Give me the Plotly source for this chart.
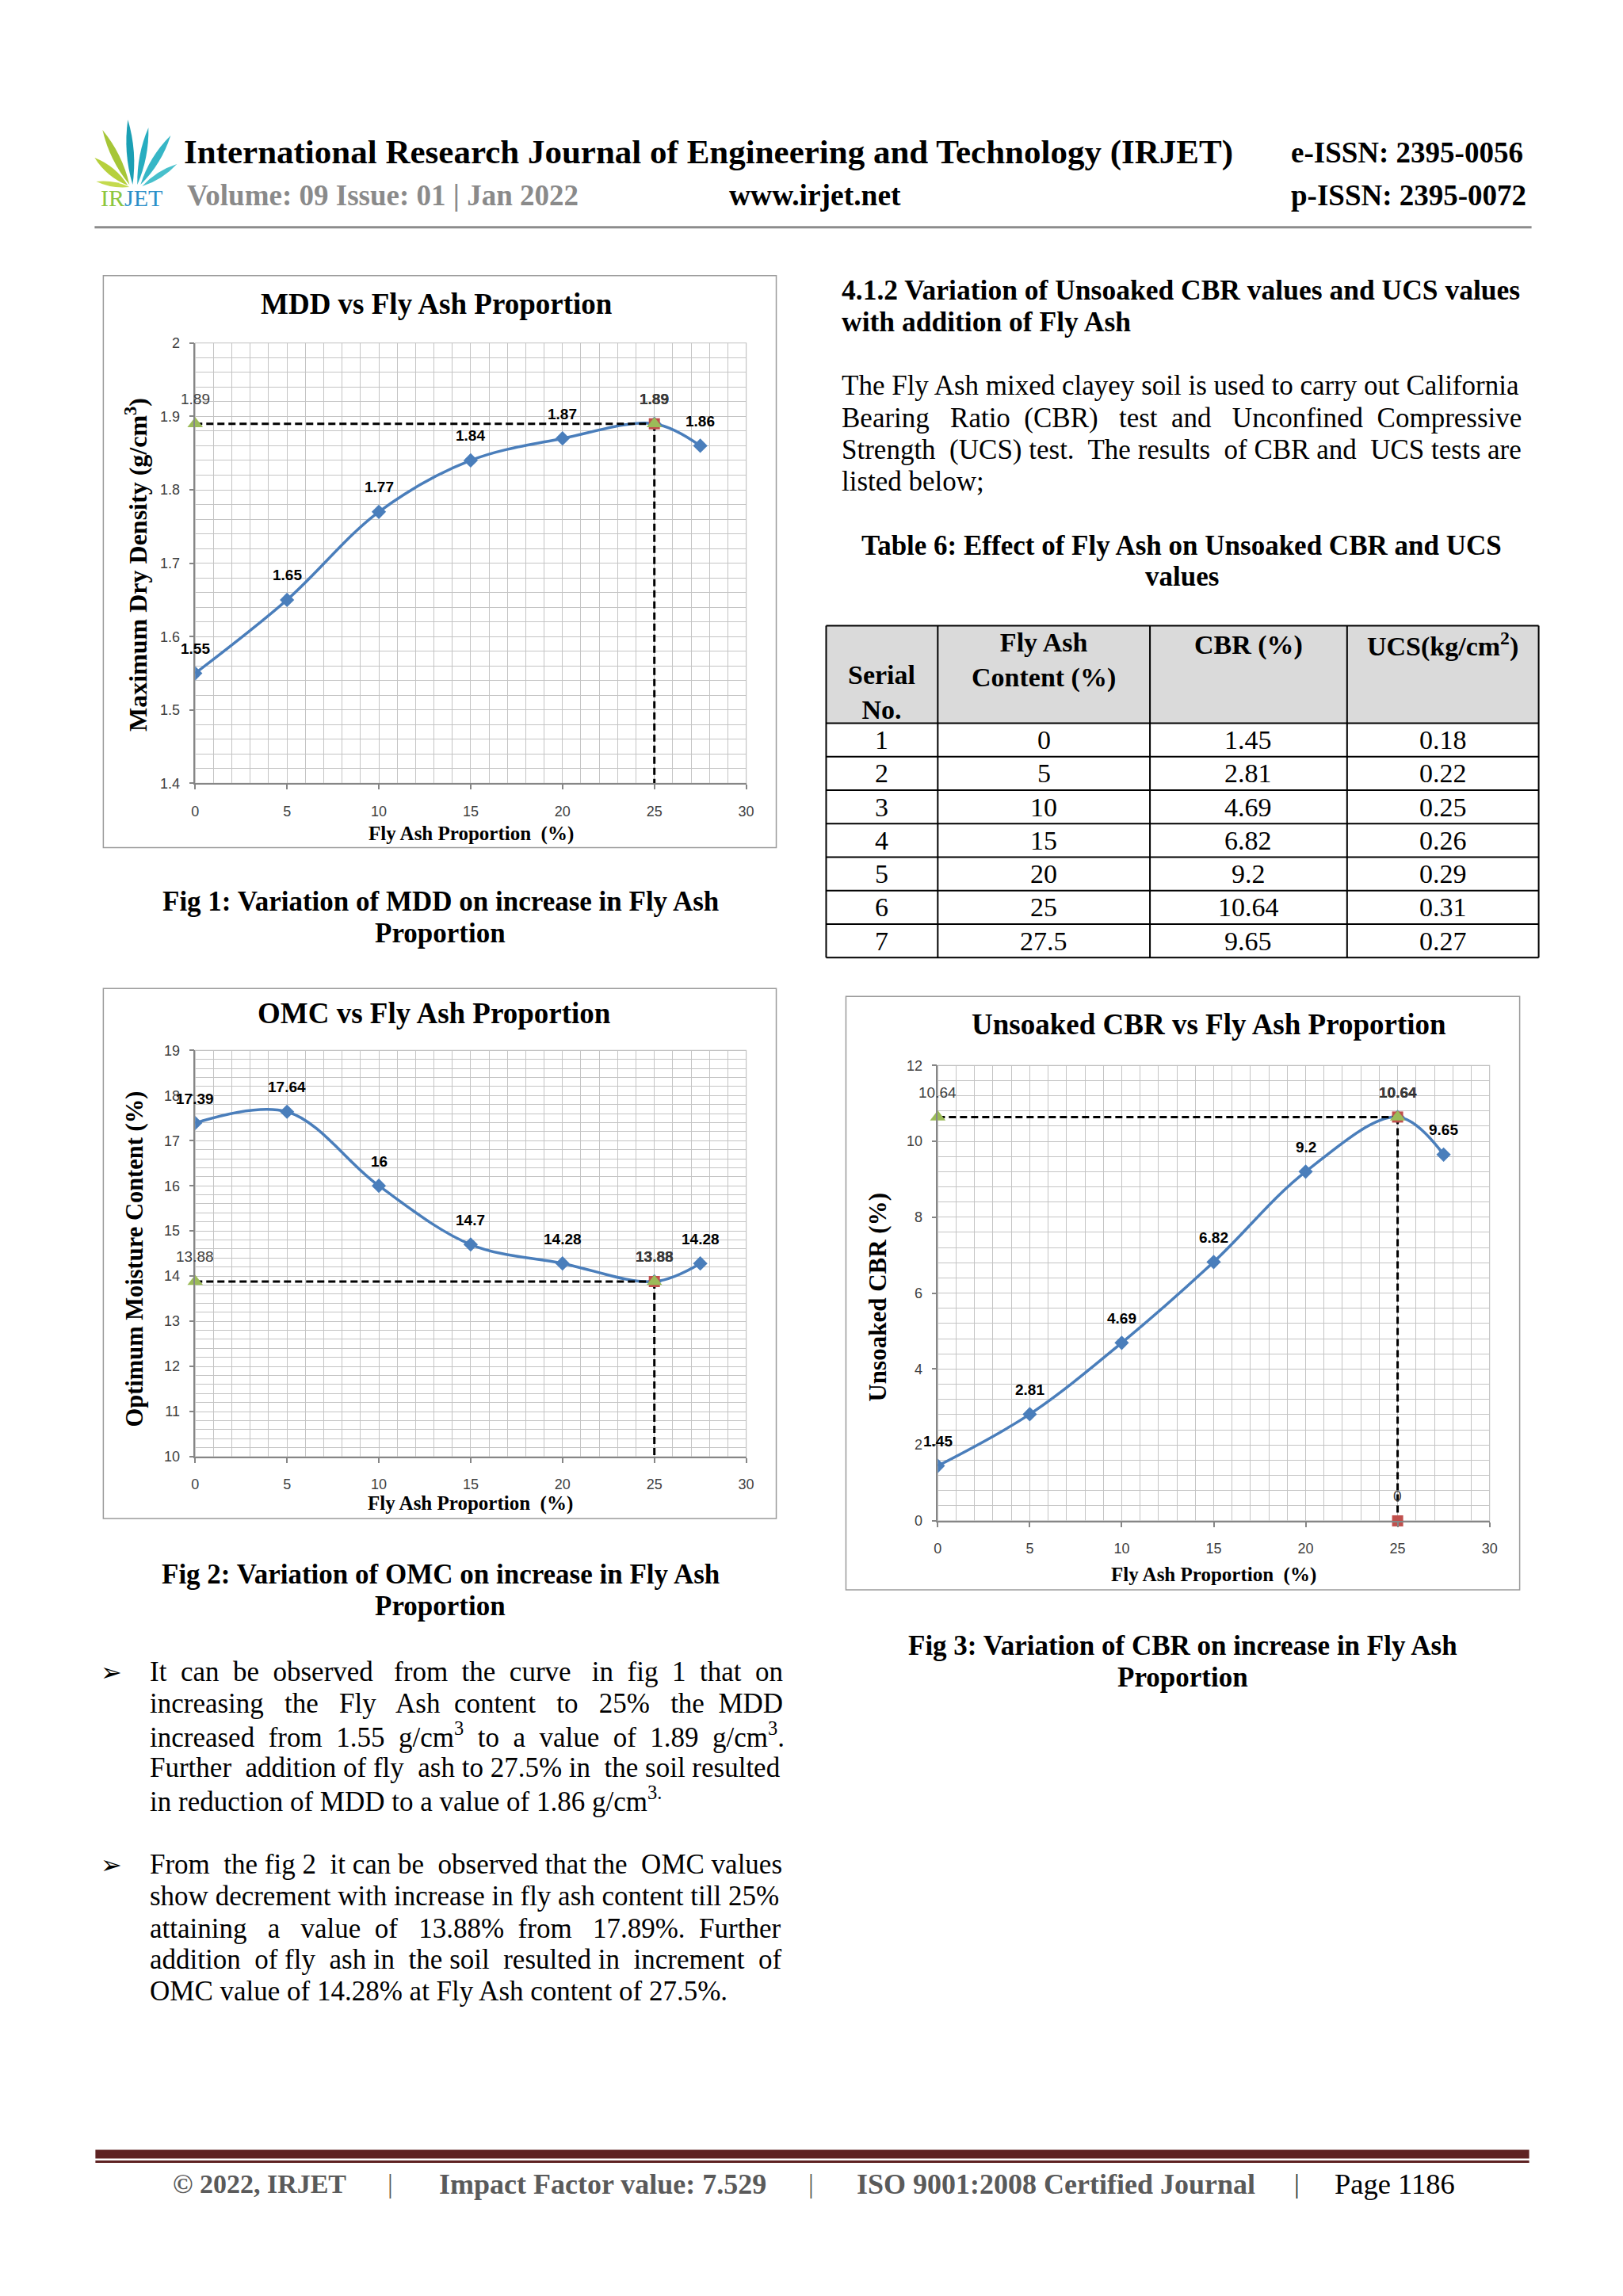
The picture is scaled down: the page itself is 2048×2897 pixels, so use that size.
import plotly.graph_objects as go

# ---------------- data ----------------
fly_ash = [0, 5, 10, 15, 20, 25, 27.5]
mdd = [1.55, 1.65, 1.77, 1.84, 1.87, 1.89, 1.86]
omc = [17.39, 17.64, 16, 14.7, 14.28, 13.88, 14.28]
cbr = [1.45, 2.81, 4.69, 6.82, 9.2, 10.64, 9.65]
ucs = [0.18, 0.22, 0.25, 0.26, 0.29, 0.31, 0.27]
serial_no = [1, 2, 3, 4, 5, 6, 7]
opt_fly_ash = 25
mdd_opt = 1.89
omc_opt = 13.88
cbr_opt = 10.64
x_ticks = [0, 5, 10, 15, 20, 25, 30]

# ---------------- page geometry helpers ----------------
# page coordinates (in the 2048x2897 photo) -> figure paper fractions,
# compensating the page margin/scale seen in the photographed page.
W, H = 2032, 2881
SC, BX, BY = 0.9936, 11.5, 17.0


def px(x):
    return ((x - BX) / SC) / W


def py(y):
    return 1 - ((y - BY) / SC) / H


SANS = "Liberation Sans, Arial, sans-serif"
SERIF = "Liberation Serif, Times New Roman, serif"
BLUE = "#4a7ebb"
GREEN = "#9bbb59"
RED = "#c0504d"
GRID = "#c4c4c4"
AXC = "#868686"
BODY = 35

fig = go.Figure()
anns = []
shapes = []


def text(x, y, s, size, bold=False, color="black", xanchor="left", family=SERIF, angle=0):
    if bold:
        s = "<b>" + s + "</b>"
    anns.append(dict(xref="paper", yref="paper", x=px(x), y=py(y), text=s,
                     showarrow=False, xanchor=xanchor, yanchor="middle",
                     textangle=angle, font=dict(family=family, size=size, color=color)))


# ---------------- charts ----------------
charts = [
    dict(ax="", vals=mdd, opt=mdd_opt, xd=(245, 941), yd=(432, 988), yr=(1.4, 2.0),
         dt=0.1, mdt=0.02, box=(129, 347, 979, 1069),
         title="MDD vs Fly Ash Proportion", tpos=(550, 383),
         ytitle="Maximum Dry Density (g/cm<sup>3</sup>)", ytpos=(170, 712), ytsize=32,
         xtpos=(594, 1052), clip=True),
    dict(ax="2", vals=omc, opt=omc_opt, xd=(245, 941), yd=(1325, 1838), yr=(10, 19),
         dt=1, mdt=0.2, box=(129, 1247, 979, 1916),
         title="OMC vs Fly Ash Proportion", tpos=(547, 1278),
         ytitle="Optimum Moisture Content (%)", ytpos=(169, 1588), ytsize=30.5,
         xtpos=(593, 1897), clip=True),
    dict(ax="3", vals=cbr, opt=cbr_opt, xd=(1183, 1880), yd=(1344, 1919), yr=(0, 12),
         dt=2, mdt=0.4, box=(1067, 1257, 1918, 2006),
         title="Unsoaked CBR vs Fly Ash Proportion", tpos=(1525, 1292),
         ytitle="Unsoaked CBR (%)", ytpos=(1107, 1636), ytsize=31,
         xtpos=(1532, 1987), clip=False),
]

layout_axes = {}
for c in charts:
    xa, ya = "x" + c["ax"], "y" + c["ax"]
    # main curve
    fig.add_trace(go.Scatter(x=fly_ash, y=c["vals"], xaxis=xa, yaxis=ya,
                             mode="lines+markers",
                             line=dict(color=BLUE, width=3.5, shape="spline", smoothing=1),
                             marker=dict(symbol="diamond", size=14, color=BLUE)))
    # vertical reference (down to the x axis)
    vx = [opt_fly_ash, opt_fly_ash]
    vy = [c["opt"], 0]
    fig.add_trace(go.Scatter(x=vx, y=vy, xaxis=xa, yaxis=ya, mode="lines+markers",
                             cliponaxis=c["clip"],
                             line=dict(color="black", width=3, dash="9px,5px"),
                             marker=dict(symbol="square", size=14, color=RED)))
    # horizontal reference (to the y axis)
    hx = [0, opt_fly_ash]
    hy = [c["opt"], c["opt"]]
    fig.add_trace(go.Scatter(x=hx, y=hy, xaxis=xa, yaxis=ya, mode="lines+markers",
                             cliponaxis=False,
                             line=dict(color="black", width=3, dash="9px,5px"),
                             marker=dict(symbol="triangle-up", size=17, color=GREEN)))
    # data labels
    for xv, yv in zip(fly_ash, c["vals"]):
        anns.append(dict(xref=xa, yref=ya, x=xv, y=yv, text="<b>%g</b>" % yv,
                         showarrow=False, yshift=31,
                         font=dict(family=SANS, size=19, color="black")))
    for xv, yv in list(zip(hx, hy)) + list(zip(vx, vy)):
        if c["yr"][0] <= yv <= c["yr"][1]:
            anns.append(dict(xref=xa, yref=ya, x=xv, y=yv, text="%g" % yv,
                             showarrow=False, yshift=31,
                             font=dict(family=SANS, size=19, color="#404040")))
    axstyle = dict(showline=True, linecolor=AXC, linewidth=1.5, mirror=False,
                   ticks="outside", ticklen=6, tickcolor=AXC, tickwidth=1.5,
                   showgrid=True, gridcolor=GRID, gridwidth=1, zeroline=False,
                   tickfont=dict(family=SANS, size=18, color="#404040"))
    layout_axes["xaxis" + c["ax"]] = dict(
        domain=[px(c["xd"][0]), px(c["xd"][1])], anchor=ya, range=[0, 30],
        tickmode="array", tickvals=x_ticks, ticklabelstandoff=12,
        minor=dict(dtick=1, tick0=0, showgrid=True, gridcolor=GRID, gridwidth=1, ticks=""),
        **axstyle)
    layout_axes["yaxis" + c["ax"]] = dict(
        domain=[py(c["yd"][1]), py(c["yd"][0])], anchor=xa, range=list(c["yr"]),
        dtick=c["dt"], tick0=c["yr"][0], ticklabelstandoff=8,
        minor=dict(dtick=c["mdt"], tick0=c["yr"][0], showgrid=True, gridcolor=GRID,
                   gridwidth=1, ticks=""),
        **axstyle)
    # light outline of the plot area (top / right edges are grid lines in the original)
    shapes.append(dict(type="rect", xref="paper", yref="paper",
                       x0=px(c["xd"][0]), x1=px(c["xd"][1]),
                       y0=py(c["yd"][1]), y1=py(c["yd"][0]),
                       line=dict(color=GRID, width=1.2), layer="below"))
    b = c["box"]
    shapes.append(dict(type="rect", xref="paper", yref="paper", x0=px(b[0]), y0=py(b[1]),
                       x1=px(b[2]), y1=py(b[3]), line=dict(color="#9a9a9a", width=1.5),
                       layer="below"))
    text(c["tpos"][0], c["tpos"][1], c["title"], 37, bold=True, xanchor="center")
    text(c["xtpos"][0], c["xtpos"][1], "Fly Ash Proportion  (%)", 25, bold=True, xanchor="center")
    text(c["ytpos"][0], c["ytpos"][1], c["ytitle"], c["ytsize"], bold=True, xanchor="center", angle=-90)


# ---------------- header ----------------
def leaf(base, tip, w, color):
    bx, by = base
    tx, ty = tip
    mx, my = (bx + tx) / 2, (by + ty) / 2
    dx, dy = tx - bx, ty - by
    L = (dx * dx + dy * dy) ** 0.5
    nx, ny = -dy / L, dx / L
    c1 = (mx + nx * w, my + ny * w)
    c2 = (mx - nx * w, my - ny * w)
    path = "M %f,%f Q %f,%f %f,%f Q %f,%f %f,%f Z" % (
        px(bx), py(by), px(c1[0]), py(c1[1]), px(tx), py(ty),
        px(c2[0]), py(c2[1]), px(bx), py(by))
    shapes.append(dict(type="path", xref="paper", yref="paper", path=path,
                       fillcolor=color, line=dict(width=0)))


leaf((166, 232), (160, 150), 9, "#1a9fb4")
leaf((172, 232), (186, 160), 8, "#27adc0")
leaf((176, 232), (214, 170), 9, "#36b6c6")
leaf((178, 234), (222, 206), 7, "#48c0cc")
leaf((162, 232), (128, 163), 9, "#a6c637")
leaf((160, 233), (118, 198), 9, "#b6d03c")
leaf((162, 235), (120, 228), 6, "#c4da4e")

text(124, 249, "<span style='color:#8dc63f'>IR</span><span style='color:#2b8fc9'>JET</span>",
     30, family=SERIF)
text(229, 191, "International Research Journal of Engineering and Technology (IRJET)", 43, bold=True)
text(1627, 192, "e-ISSN: 2395-0056", 37, bold=True)
text(233, 246, "Volume: 09 Issue: 01 | Jan 2022", 37, bold=True, color="#8a8a8a")
text(917, 246, "www.irjet.net", 37.5, bold=True)
text(1627, 246, "p-ISSN: 2395-0072", 37, bold=True)
shapes.append(dict(type="line", xref="paper", yref="paper", x0=px(118), x1=px(1933),
                   y0=py(286), y1=py(286), line=dict(color="#8c8c8c", width=3)))

# ---------------- right column text ----------------
text(1060, 365, "4.1.2 Variation of Unsoaked CBR values and UCS values", 35.5, bold=True)
text(1060, 405, "with addition of Fly Ash", 35.5, bold=True)
para = ["The Fly Ash mixed clayey soil is used to carry out California",
        "Bearing   Ratio  (CBR)   test  and   Unconfined  Compressive",
        "Strength  (UCS) test.  The results  of CBR and  UCS tests are",
        "listed below;"]
for yv, ln in zip([486, 527, 567, 607], para):
    text(1060, yv, ln, BODY)
text(1491, 688, "Table 6: Effect of Fly Ash on Unsoaked CBR and UCS", 35, bold=True, xanchor="center")
text(1491, 727, "values", 35, bold=True, xanchor="center")

# ---------------- table ----------------
col_edges = [1042, 1183, 1451, 1700, 1942]
t_top, h_bot, t_bot = 789, 912, 1208
shapes.append(dict(type="rect", xref="paper", yref="paper", x0=px(col_edges[0]), x1=px(col_edges[-1]),
                   y0=py(t_top), y1=py(h_bot), fillcolor="#dadada", line=dict(width=0), layer="below"))
row_h = (t_bot - h_bot) / len(serial_no)
for ce in col_edges:
    shapes.append(dict(type="line", xref="paper", yref="paper", x0=px(ce), x1=px(ce),
                       y0=py(t_top), y1=py(t_bot), line=dict(color="black", width=2)))
row_lines = [t_top, h_bot] + [h_bot + row_h * (i + 1) for i in range(len(serial_no))]
for rl in row_lines:
    shapes.append(dict(type="line", xref="paper", yref="paper", x0=px(col_edges[0]), x1=px(col_edges[-1]),
                       y0=py(rl), y1=py(rl), line=dict(color="black", width=2)))
centers = [(col_edges[i] + col_edges[i + 1]) / 2 for i in range(4)]
text(centers[0], 873, "Serial<br>No.", 34, bold=True, xanchor="center")
text(centers[1], 832, "Fly Ash<br>Content (%)", 34, bold=True, xanchor="center")
text(centers[2], 813, "CBR (%)", 34, bold=True, xanchor="center")
text(centers[3], 813, "UCS(kg/cm<sup>2</sup>)", 34, bold=True, xanchor="center")
for i in range(len(serial_no)):
    yc = h_bot + row_h * (i + 0.5)
    for j, v in enumerate([serial_no[i], fly_ash[i], cbr[i], ucs[i]]):
        text(centers[j], yc, "%g" % v, 34, xanchor="center")

# ---------------- captions ----------------
text(555, 1137, "Fig 1: Variation of MDD on increase in Fly Ash", 35, bold=True, xanchor="center")
text(555, 1177, "Proportion", 35, bold=True, xanchor="center")
text(555, 1987, "Fig 2: Variation of OMC on increase in Fly Ash", 35, bold=True, xanchor="center")
text(555, 2027, "Proportion", 35, bold=True, xanchor="center")
text(1492, 2077, "Fig 3: Variation of CBR on increase in Fly Ash", 35, bold=True, xanchor="center")
text(1492, 2117, "Proportion", 35, bold=True, xanchor="center")

# ---------------- bullets ----------------
b1 = ["It  can  be  observed   from  the  curve   in  fig  1  that  on",
      "increasing   the   Fly   Ash  content   to   25%   the  MDD",
      "increased  from  1.55  g/cm<sup>3</sup>  to  a  value  of  1.89  g/cm<sup>3</sup>.",
      "Further  addition of fly  ash to 27.5% in  the soil resulted",
      "in reduction of MDD to a value of 1.86 g/cm<sup>3.</sup>"]
b2 = ["From  the fig 2  it can be  observed that the  OMC values",
      "show decrement with increase in fly ash content till 25%",
      "attaining   a   value  of   13.88%  from   17.89%.  Further",
      "addition  of fly  ash in  the soil  resulted in  increment  of",
      "OMC value of 14.28% at Fly Ash content of 27.5%."]
for ys, lines in (([2110, 2150, 2190, 2231, 2271], b1), ([2353, 2393, 2434, 2473, 2513], b2)):
    text(124, ys[0], "\u27a2", 32, family="DejaVu Sans")
    for yv, ln in zip(ys, lines):
        text(186, yv, ln, BODY)

# ---------------- footer ----------------
shapes.append(dict(type="rect", xref="paper", yref="paper", x0=px(119), x1=px(1930),
                   y0=py(2713), y1=py(2724), fillcolor="#5e2222", line=dict(width=0)))
shapes.append(dict(type="rect", xref="paper", yref="paper", x0=px(119), x1=px(1930),
                   y0=py(2726.5), y1=py(2729.5), fillcolor="#5e2222", line=dict(width=0)))
FG = "#5a5a5a"
text(215, 2756, "\u00a9 2022, IRJET", 34, bold=True, color=FG)
text(491, 2756, "|", 34, color=FG, xanchor="center")
text(551, 2756, "Impact Factor value: 7.529", 36, bold=True, color=FG)
text(1023, 2756, "|", 34, color=FG, xanchor="center")
text(1079, 2756, "ISO 9001:2008 Certified Journal", 36, bold=True, color=FG)
text(1637, 2756, "|", 34, color="#333333", xanchor="center")
text(1682, 2756, "Page 1186", 36.5, color="black")

fig.update_layout(width=W, height=H, margin=dict(l=0, r=0, t=0, b=0),
                  paper_bgcolor="white", plot_bgcolor="white", showlegend=False,
                  annotations=anns, shapes=shapes, **layout_axes)
fig.write_html("out.html")
